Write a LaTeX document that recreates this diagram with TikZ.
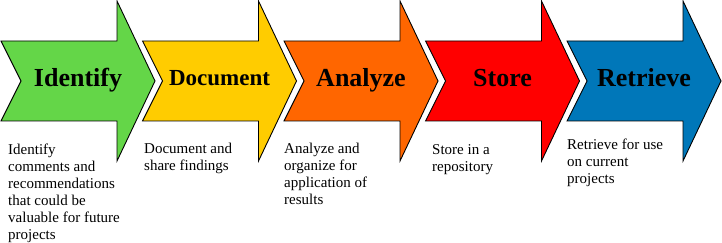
\documentclass[tikz,border=0pt]{standalone}
\usepackage{fontspec}
\setmainfont{Liberation Serif}
\usetikzlibrary{calc}
\definecolor{cgreen}{RGB}{100,214,72}
\definecolor{cyellow}{RGB}{255,204,0}
\definecolor{corange}{RGB}{255,102,0}
\definecolor{cred}{RGB}{255,0,0}
\definecolor{cblue}{RGB}{0,119,185}
\tikzset{
  arrowshape/.style={draw=black, line width=0.9pt, line join=miter},
  titletext/.style={font=\bfseries\fontsize{26}{28}\selectfont, anchor=base, inner sep=0pt},
  desctext/.style={font=\fontsize{15}{17.1}\selectfont, anchor=north west, align=left, inner sep=0pt},
}
\newcommand{\procarrow}[3]{%
  \fill[#2] (#1,202) -- ++(116,0) -- ++(0,40) -- ++(38,-80) -- ++(-38,-80) -- ++(0,40) -- ++(-116,0) -- ++(20,40) -- cycle;
  \draw[arrowshape] (#1,202) -- ++(116,0) -- ++(0,40) -- ++(38,-80) -- ++(-38,-80) -- ++(0,40) -- ++(-116,0) -- ++(20,40) -- cycle;
  \coordinate (#3) at ($(#1,162)+(77,0)$);
}
\begin{document}
\begin{tikzpicture}[x=1pt,y=1pt]
\useasboundingbox (0,0) rectangle (722,243);
\procarrow{1}{cgreen}{c1}
\procarrow{142.5}{cyellow}{c2}
\procarrow{284}{corange}{c3}
\procarrow{425.5}{cred}{c4}
\procarrow{567}{cblue}{c5}
\node[titletext] (t1) at ($(c1)+(0,-6)$) {Identify};
\node[titletext, font=\bfseries\fontsize{23}{25}\selectfont] (t2) at ($(c2)+(0,-5)$) {Document};
\node[titletext] (t3) at ($(c3)+(0,-6)$) {Analyze};
\node[titletext] (t4) at ($(c4)+(0,-6)$) {Store};
\node[titletext] (t5) at ($(c5)+(0,-6)$) {Retrieve};
\node[desctext] (d1) at (8,99.5) {Identify\\comments and\\recommendations\\that could be\\valuable for future\\projects};
\node[desctext] (d2) at (144,100.5) {Document and\\share findings};
\node[desctext] (d3) at (284,100) {Analyze and\\organize for\\application of\\results};
\node[desctext] (d4) at (432,99) {Store in a\\repository};
\node[desctext] (d5) at (567,104) {Retrieve for use\\on current\\projects};
\end{tikzpicture}
\end{document}
